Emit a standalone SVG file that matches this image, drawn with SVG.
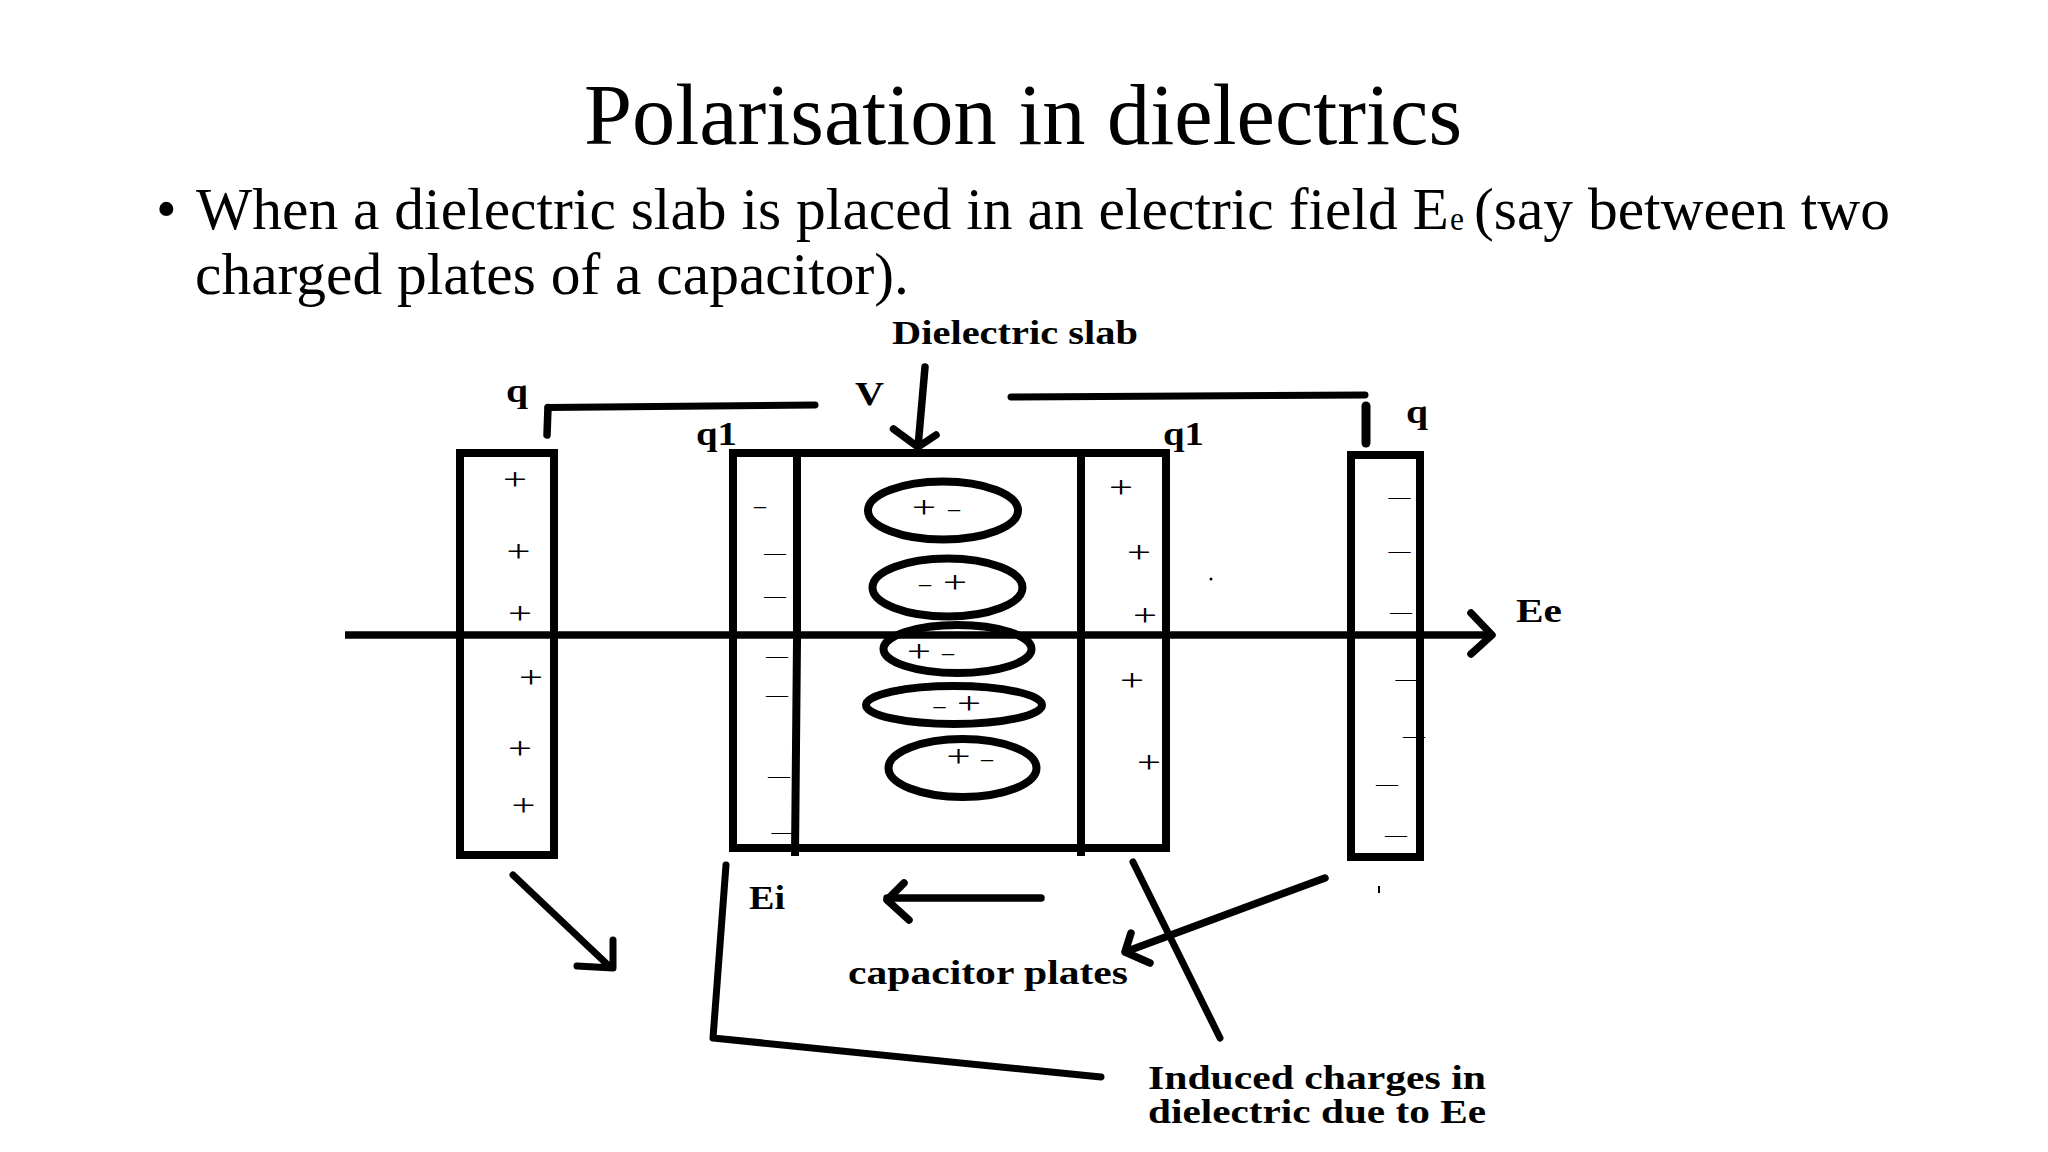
<svg xmlns="http://www.w3.org/2000/svg" width="2048" height="1152" viewBox="0 0 2048 1152">
<style>
text{font-family:"Liberation Serif","Times New Roman",serif;fill:#000}
.title{font-size:87px}
.body{font-size:59px}
.sub{font-size:33px}
.lbl{font-size:33px;font-weight:bold}
.p{font-size:31px;text-anchor:middle}
.m{font-size:22px;text-anchor:middle}
.n{font-size:24px;text-anchor:middle}
.s{fill:none;stroke:#000;stroke-width:8}
.w{fill:none;stroke:#000;stroke-width:7.500;stroke-linecap:round;stroke-linejoin:round}
.t{fill:none;stroke:#000;stroke-width:7;stroke-linecap:round;stroke-linejoin:round}
</style>
<rect width="2048" height="1152" fill="#fff"/>
<g id="heading">
<text class="title" x="584" y="144" textLength="878" lengthAdjust="spacingAndGlyphs">Polarisation in dielectrics</text>
<text class="body" x="156" y="229">•</text>
<text class="body" x="196" y="229" textLength="1253" lengthAdjust="spacingAndGlyphs">When a dielectric slab is placed in an electric field E</text>
<text class="sub" x="1450" y="230" textLength="14" lengthAdjust="spacingAndGlyphs">e</text>
<text class="body" x="1474" y="229" textLength="416" lengthAdjust="spacingAndGlyphs">(say between two</text>
<text class="body" x="195" y="294" textLength="714" lengthAdjust="spacingAndGlyphs">charged plates of a capacitor).</text>
</g>
<g id="connectors">
<path class="w" style="stroke-linecap:butt" d="M345 635H1491"/>
<path class="w" d="M1471 613L1492 635L1471 654"/>
<path class="t" d="M548 407.500L815 405"/>
<path class="w" d="M547 435L548 407.500"/>
<path class="t" d="M1011 397L1365 395"/>
<path class="w" style="stroke-width:9" d="M1366 406V443"/>
<path class="w" d="M925 367L918 447M893.500 429L918 447L936 435"/>
<path class="t" d="M513 875L610 967M613 940V968L577 966"/>
<path class="w" d="M1041 898H887M904 883L887 900L909 920"/>
<path class="w" d="M1325 878L1125 952M1131 933L1125 952L1150 963"/>
<path class="t" d="M1133 862L1220 1038"/>
<path class="t" d="M726 865L713 1038L1101 1077"/>
</g>
<g id="plate-left">
<rect class="s" x="460" y="453" width="94" height="402"/>
<text class="p" x="515" y="490" textLength="24" lengthAdjust="spacingAndGlyphs">+</text>
<text class="p" x="518.500" y="562" textLength="24" lengthAdjust="spacingAndGlyphs">+</text>
<text class="p" x="520" y="624" textLength="24" lengthAdjust="spacingAndGlyphs">+</text>
<text class="p" x="531" y="688" textLength="24" lengthAdjust="spacingAndGlyphs">+</text>
<text class="p" x="520" y="759" textLength="24" lengthAdjust="spacingAndGlyphs">+</text>
<text class="p" x="523.500" y="816" textLength="24" lengthAdjust="spacingAndGlyphs">+</text>
<text class="lbl" x="506" y="402" textLength="22" lengthAdjust="spacingAndGlyphs">q</text>
</g>
<g id="dielectric-slab">
<rect class="s" x="733" y="453" width="433" height="395"/>
<path class="s" d="M797 450V640L795 856M1081 450V856"/>
<text class="lbl" x="892" y="344" textLength="246" lengthAdjust="spacingAndGlyphs">Dielectric slab</text>
<text class="lbl" x="696" y="445" textLength="41" lengthAdjust="spacingAndGlyphs">q1</text>
<text class="lbl" x="1163" y="445" textLength="41" lengthAdjust="spacingAndGlyphs">q1</text>
<text class="lbl" x="855" y="405" textLength="29" lengthAdjust="spacingAndGlyphs">V</text>
<text class="n" x="760" y="513">–</text>
<text class="m" x="775" y="560">—</text>
<text class="m" x="775" y="603">—</text>
<text class="m" x="777" y="662.500">—</text>
<text class="m" x="777" y="702">—</text>
<text class="m" x="779" y="783">—</text>
<text class="m" x="782.500" y="839">—</text>
<text class="p" x="1121" y="498" textLength="24" lengthAdjust="spacingAndGlyphs">+</text>
<text class="p" x="1139" y="563" textLength="24" lengthAdjust="spacingAndGlyphs">+</text>
<text class="p" x="1145" y="626" textLength="24" lengthAdjust="spacingAndGlyphs">+</text>
<text class="p" x="1132" y="691" textLength="24" lengthAdjust="spacingAndGlyphs">+</text>
<text class="p" x="1149" y="773" textLength="24" lengthAdjust="spacingAndGlyphs">+</text>
</g>
<g id="molecule-1">
<ellipse class="s" cx="943" cy="510.500" rx="75" ry="29"/>
<text class="p" x="924" y="517.500" textLength="24" lengthAdjust="spacingAndGlyphs">+</text>
<text class="n" x="954" y="516">–</text>
</g>
<g id="molecule-2">
<ellipse class="s" cx="947.500" cy="587.500" rx="75" ry="29"/>
<text class="n" x="925" y="591">–</text>
<text class="p" x="955" y="592.500" textLength="24" lengthAdjust="spacingAndGlyphs">+</text>
</g>
<g id="molecule-3">
<ellipse class="s" cx="957.500" cy="649" rx="74" ry="24"/>
<text class="p" x="919" y="661.500" textLength="24" lengthAdjust="spacingAndGlyphs">+</text>
<text class="n" x="948" y="660">–</text>
</g>
<g id="molecule-4">
<ellipse class="s" cx="954" cy="705" rx="88" ry="19"/>
<text class="n" x="939.500" y="712.500">–</text>
<text class="p" x="969" y="714" textLength="24" lengthAdjust="spacingAndGlyphs">+</text>
</g>
<g id="molecule-5">
<ellipse class="s" cx="962.500" cy="768" rx="74" ry="29"/>
<text class="p" x="958.500" y="766.500" textLength="24" lengthAdjust="spacingAndGlyphs">+</text>
<text class="n" x="987" y="766">–</text>
</g>
<g id="plate-right">
<rect class="s" x="1351" y="455" width="69" height="402"/>
<text class="m" x="1399.500" y="504">—</text>
<text class="m" x="1399.500" y="558">—</text>
<text class="m" x="1401" y="619">—</text>
<text class="m" x="1406.500" y="686">—</text>
<text class="m" x="1414" y="743">—</text>
<text class="m" x="1387" y="791">—</text>
<text class="m" x="1396" y="842">—</text>
<text class="lbl" x="1406" y="423" textLength="22" lengthAdjust="spacingAndGlyphs">q</text>
</g>
<g id="labels">
<text class="lbl" x="1516" y="622" textLength="46" lengthAdjust="spacingAndGlyphs">Ee</text>
<text class="lbl" x="749" y="909" textLength="36" lengthAdjust="spacingAndGlyphs">Ei</text>
<text class="lbl" x="848" y="984" textLength="280" lengthAdjust="spacingAndGlyphs">capacitor plates</text>
<text class="lbl" x="1148" y="1089" textLength="338" lengthAdjust="spacingAndGlyphs">Induced charges in</text>
<text class="lbl" x="1148" y="1123" textLength="338" lengthAdjust="spacingAndGlyphs">dielectric due to Ee</text>
</g>
<g id="specks">
<circle cx="1211" cy="579" r="1.500"/>
<rect x="1378" y="886" width="2" height="7"/>
</g>
</svg>
